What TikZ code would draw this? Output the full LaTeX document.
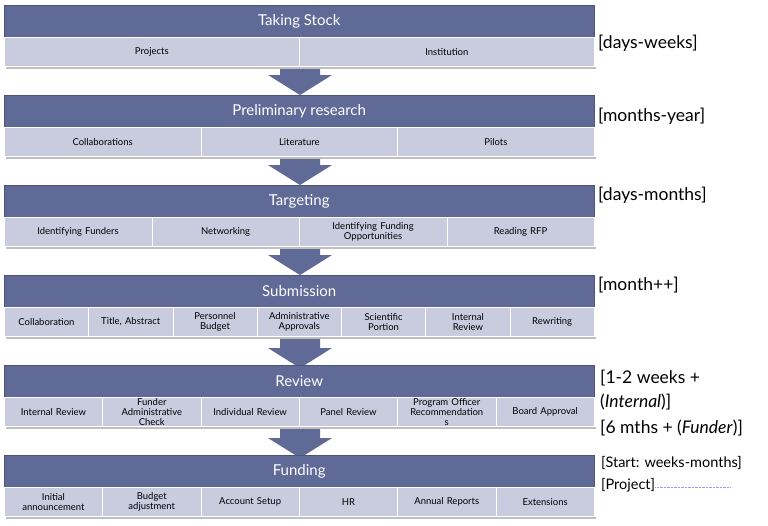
\documentclass[tikz,border=0pt]{standalone}
\usepackage{fontspec}
\setmainfont{Lato}
\begin{document}
\begin{tikzpicture}[x=1pt,y=-1pt,
  hdr/.style={fill=hdrc,draw=hdrc!80!black,line width=0.4pt,text=white,font=\fontsize{15}{17}\selectfont,minimum width=590pt,minimum height=32pt,anchor=north west,inner sep=0},
  sub/.style={fill=subc,draw=white,line width=0.6pt,font=\fontsize{9.5}{10}\selectfont,align=center,minimum height=29pt,anchor=north west,inner sep=1pt},
  arr/.style={fill=hdrc,draw=none},
  lab/.style={anchor=north west,font=\fontsize{17.5}{20}\selectfont,inner sep=0,align=left}]
\definecolor{hdrc}{HTML}{5F6A96}
\definecolor{subc}{HTML}{C9CCDF}
\useasboundingbox (0,0) rectangle (768,525);
\fill[white] (0,0) rectangle (768,525);
% arrows
\foreach \y in {65,155,245,338,428}{
  \fill[arr] (280,\y) -- (320,\y) -- (320,\y+10) -- (332,\y+10) -- (300,\y+30) -- (268,\y+10) -- (280,\y+10) -- cycle;}
% stages
\foreach \i/\t/\y in {1/Taking Stock/5,2/Preliminary research/95,3/Targeting/185,4/Submission/275,5/Review/365,6/Funding/455}{
  \fill[black!25] (6,\y+62) rectangle (596,\y+64);
  \node[hdr] (h\i) at (4,\y) {\t};
}
\foreach \t [count=\k] in {Projects,Institution}
  \node[sub,minimum width=295pt,text width=290pt] (s1\k) at (4+295*\k-295,37) {\t};
\foreach \t [count=\k] in {Collaborations,Literature,Pilots}
  \node[sub,minimum width=196.67pt,text width=190pt] (s2\k) at (4+196.67*\k-196.67,127) {\t};
\foreach \t [count=\k] in {Identifying Funders,Networking,{Identifying Funding\\Opportunities},Reading RFP}
  \node[sub,minimum width=147.5pt,text width=142pt] (s3\k) at (4+147.5*\k-147.5,217) {\t};
\foreach \t [count=\k] in {Collaboration,{Title, Abstract},{Personnel\\Budget},{Administrative\\Approvals},{Scientific\\Portion},{Internal\\Review},Rewriting}
  \node[sub,minimum width=84.29pt,text width=82pt] (s4\k) at (4+84.29*\k-84.29,307) {\t};
\foreach \t [count=\k] in {Internal Review,{Funder\\Administrative\\Check},Individual Review,Panel Review,{Program Officer\\Recommendation\\s},Board Approval}
  \node[sub,minimum width=98.33pt,text width=96pt] (s5\k) at (4+98.33*\k-98.33,397) {\t};
\foreach \t [count=\k] in {{Initial\\announcement},{Budget\\adjustment},Account Setup,HR,Annual Reports,Extensions}
  \node[sub,minimum width=98.33pt,text width=96pt] (s6\k) at (4+98.33*\k-98.33,487) {\t};
% labels
\node[lab] (l1) at (598,35) {[days-weeks]};
\node[lab] (l2) at (598,108) {[months-year]};
\node[lab] (l3) at (598,187) {[days-months]};
\node[lab] (l4) at (598,277) {[month++]};
\node[lab,font=\fontsize{17.5}{24}\selectfont] (l5) at (600,370) {[1-2 weeks +\\(\textit{Internal})]};
\node[lab] (l6) at (600,420) {[6 mths + (\textit{Funder})]};
\node[lab,font=\fontsize{14.5}{16}\selectfont] (l7) at (601,456) {[Start: weeks-months]};
\node[lab,font=\fontsize{14.5}{16}\selectfont] (l8) at (601,478) {[Project]};
\draw[densely dotted,blue!40] (l8.east) ++(0,2) coordinate (d0) -- ++(75,0) coordinate (d1);
\end{tikzpicture}
\end{document}
